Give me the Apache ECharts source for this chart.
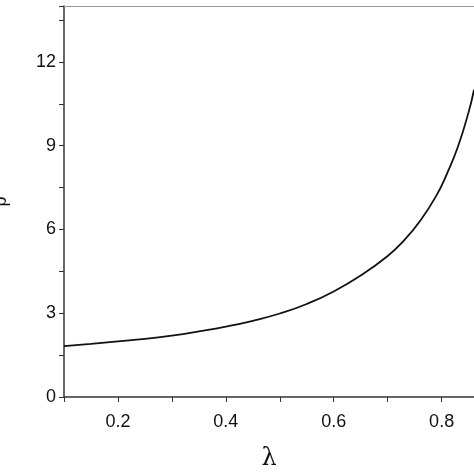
<!DOCTYPE html>
<html>
<head>
<meta charset="utf-8">
<script src="https://cdn.jsdelivr.net/npm/echarts@6/dist/echarts.min.js"></script>
<style>html,body{margin:0;padding:0;background:#fff}#chart{width:474px;height:474px}</style>
</head>
<body>
<div id="chart"></div>
<script>
// lambda values and p values
let lambdaValues = [0.1, 0.15, 0.2, 0.25, 0.3, 0.35, 0.4, 0.45, 0.5, 0.55, 0.6, 0.65, 0.7, 0.73, 0.76, 0.79, 0.81, 0.83, 0.85, 0.86];
let pValues = [1.82, 1.9, 1.99, 2.08, 2.2, 2.35, 2.52, 2.73, 2.99, 3.33, 3.78, 4.35, 5.05, 5.6, 6.3, 7.2, 8.0, 8.95, 10.2, 11.0];
let xTicks = [0.2, 0.4, 0.6, 0.8];

let chart = echarts.init(document.getElementById('chart'));
let font = 'Liberation Sans, Arial, sans-serif';

chart.setOption({
  animation: false,
  grid: {left: 64, right: 0, top: 6, bottom: 77, containLabel: false, outerBoundsMode: 'none'},
  xAxis: {
    type: 'value', min: 0.1, max: 0.86, interval: 0.1,
    name: 'λ', nameLocation: 'middle', nameGap: 50,
    nameTextStyle: {fontSize: 24, color: '#111', fontFamily: 'DejaVu Serif'},
    axisLine: {lineStyle: {color: '#333', width: 1.5}},
    axisTick: {length: 5, lineStyle: {color: '#333'}},
    axisLabel: {
      fontSize: 18, color: '#111', fontFamily: font, margin: 16,
      formatter: v => xTicks.some(t => Math.abs(t - v) < 1e-6) ? v.toFixed(1) : ''
    },
    splitLine: {show: false}
  },
  yAxis: {
    type: 'value', min: 0, max: 14, interval: 1.5,
    name: 'p', nameLocation: 'middle', nameGap: 54, nameRotate: 90,
    nameTextStyle: {fontSize: 18, color: '#111', fontFamily: font},
    axisLine: {show: true, lineStyle: {color: '#333', width: 1.5}},
    axisTick: {length: 5, lineStyle: {color: '#333'}},
    axisLabel: {
      fontSize: 18, color: '#111', fontFamily: font, margin: 8,
      formatter: v => (Math.round(v * 2) % 6 === 0) ? String(v) : ''
    },
    splitLine: {show: false}
  },
  series: [{
    type: 'line', smooth: true, symbol: 'none',
    lineStyle: {color: '#111', width: 1.8},
    data: lambdaValues.map((x, i) => [x, pValues[i]]),
    markLine: {
      silent: true, symbol: 'none', label: {show: false},
      lineStyle: {color: '#999', type: 'solid', width: 1.2},
      data: [{yAxis: 14}]
    }
  }]
});
</script>
</body>
</html>
